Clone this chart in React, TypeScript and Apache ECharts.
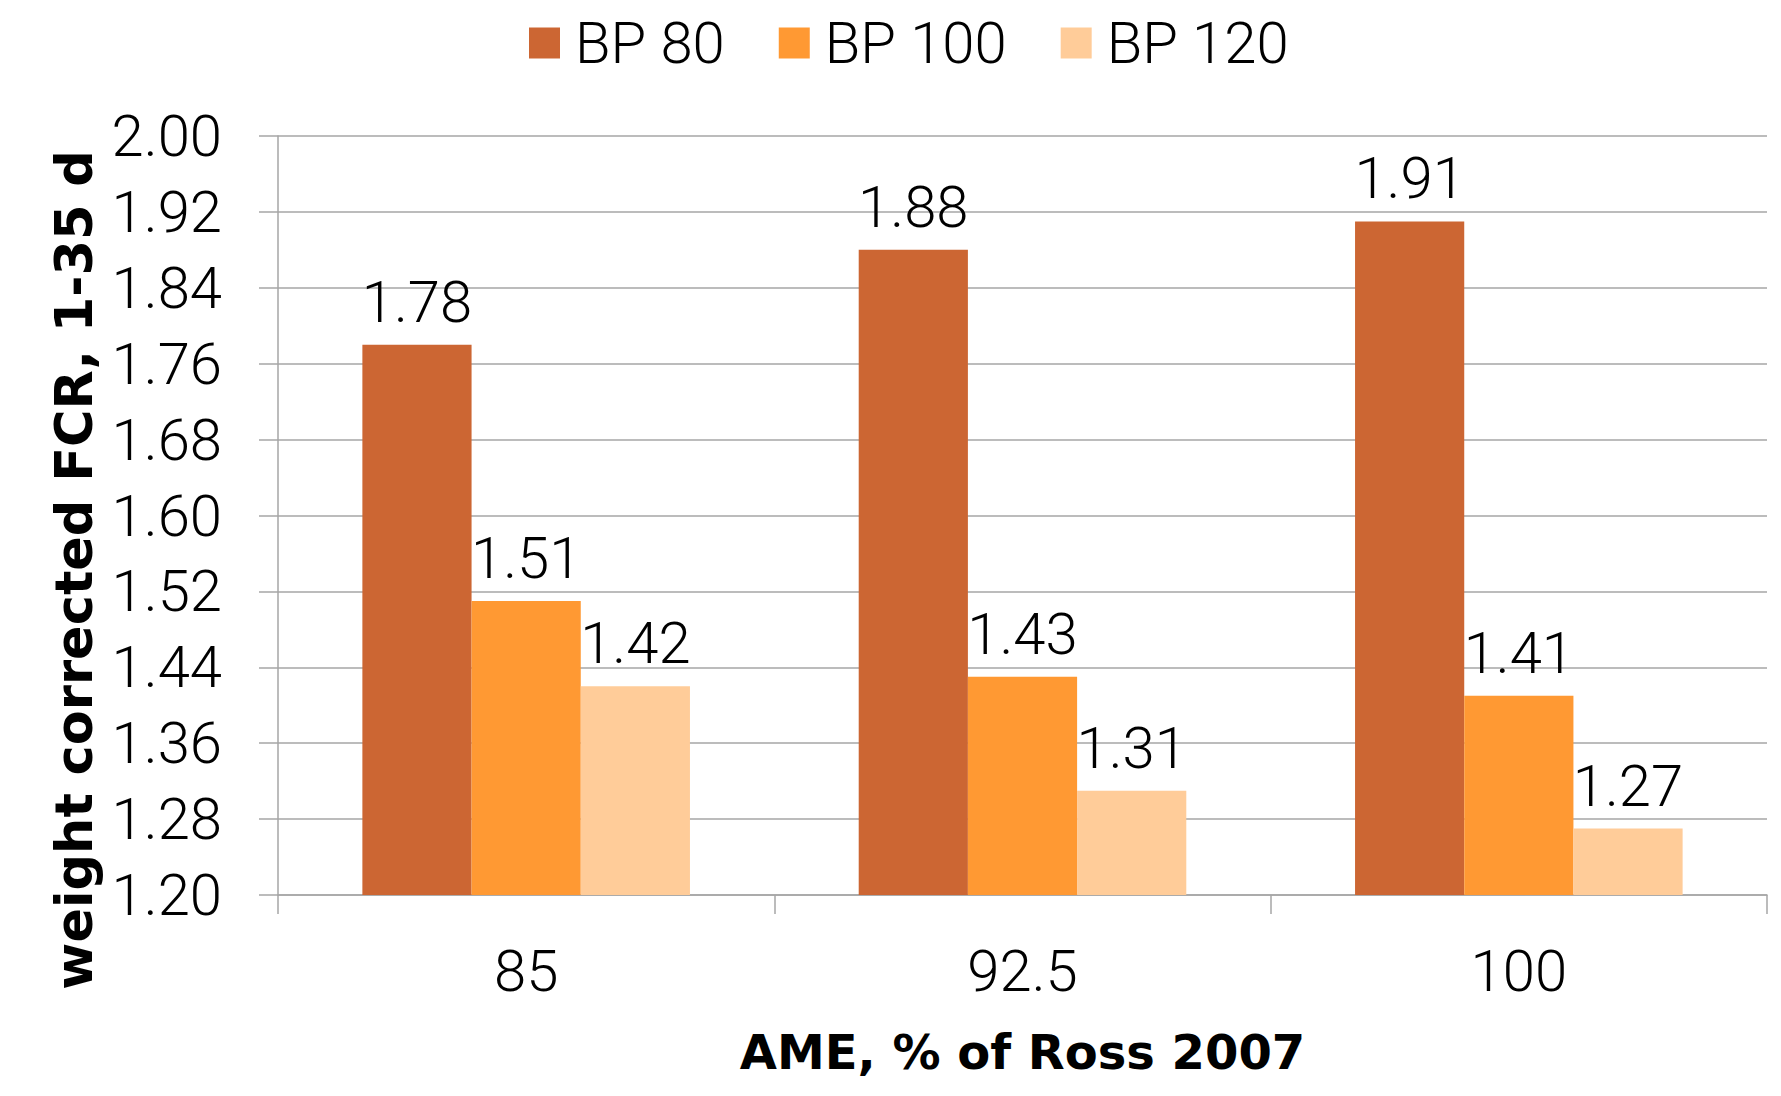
import React, { useEffect, useRef } from 'react';
import * as echarts from 'echarts';

const categories = ['85', '92.5', '100'];
const seriesNames = ['BP 80', 'BP 100', 'BP 120'];
const bp80 = [1.78, 1.88, 1.91];
const bp100 = [1.51, 1.43, 1.41];
const bp120 = [1.42, 1.31, 1.27];
const colors = ['#CC6633', '#FF9933', '#FFCC99'];

const numFont = 'Roboto';
const boldFont = 'DejaVu Sans';
const gridColor = '#A6A6A6';

const App: React.FC = () => {
  const chartRef = useRef<HTMLDivElement>(null);

  useEffect(() => {
    if (!chartRef.current) return;
    const chart = echarts.init(chartRef.current, undefined, { renderer: 'svg' });

    const values = [bp80, bp100, bp120];

    const option: any = {
      animation: false,
      backgroundColor: '#ffffff',
      grid: {
        left: 278,
        right: 14,
        top: 136,
        bottom: 201,
        containLabel: false,
        outerBoundsMode: 'none'
      },
      legend: {
        data: seriesNames,
        left: 524,
        top: 9,
        icon: 'rect',
        itemWidth: 31,
        itemHeight: 31,
        itemGap: 54,
        textStyle: {
          fontFamily: numFont,
          fontWeight: 300,
          fontSize: 58,
          color: '#000',
          padding: [0, 0, 0, 10]
        }
      },
      xAxis: {
        type: 'category',
        data: categories,
        name: 'AME, % of Ross 2007',
        nameLocation: 'middle',
        nameGap: 133,
        nameTextStyle: {
          fontFamily: boldFont,
          fontWeight: 'bold',
          fontSize: 48,
          color: '#000'
        },
        axisLine: { show: true, lineStyle: { color: gridColor, width: 1.5 } },
        axisTick: { show: true, length: 19, alignWithLabel: false, lineStyle: { color: gridColor, width: 1.5 } },
        axisLabel: {
          fontFamily: numFont,
          fontWeight: 300,
          fontSize: 58,
          color: '#000',
          margin: 47
        }
      },
      yAxis: {
        type: 'value',
        min: 1.2,
        max: 2.0,
        interval: 0.08,
        axisLine: { show: true, lineStyle: { color: gridColor, width: 1.5 } },
        axisTick: { show: true, length: 19, lineStyle: { color: gridColor, width: 1.5 } },
        splitLine: { show: true, lineStyle: { color: gridColor, width: 1.5 } },
        axisLabel: {
          fontFamily: numFont,
          fontWeight: 300,
          fontSize: 58,
          color: '#000',
          margin: 56,
          formatter: (v: number) => v.toFixed(2)
        }
      },
      graphic: [
        {
          type: 'text',
          x: 74,
          y: 570,
          rotation: Math.PI / 2,
          style: {
            text: 'weight corrected FCR, 1-35 d',
            fontFamily: boldFont,
            fontWeight: 'bold',
            fontSize: 51,
            fill: '#000',
            textAlign: 'center',
            textVerticalAlign: 'middle'
          }
        }
      ],
      series: seriesNames.map((name, i) => ({
        name,
        type: 'bar',
        data: values[i],
        barGap: '0%',
        barCategoryGap: '34%',
        itemStyle: { color: colors[i] },
        label: {
          show: true,
          position: 'top',
          distance: 14,
          fontFamily: numFont,
          fontWeight: 300,
          fontSize: 58,
          color: '#000',
          formatter: (p: any) => Number(p.value).toFixed(2)
        }
      }))
    };

    chart.setOption(option);

    const handleResize = () => chart.resize();
    window.addEventListener('resize', handleResize);
    return () => {
      window.removeEventListener('resize', handleResize);
      chart.dispose();
    };
  }, []);

  return (
    <div
      ref={chartRef}
      style={{ position: 'fixed', left: 0, top: 0, width: '100vw', height: '100vh' }}
    />
  );
};

export default App;
